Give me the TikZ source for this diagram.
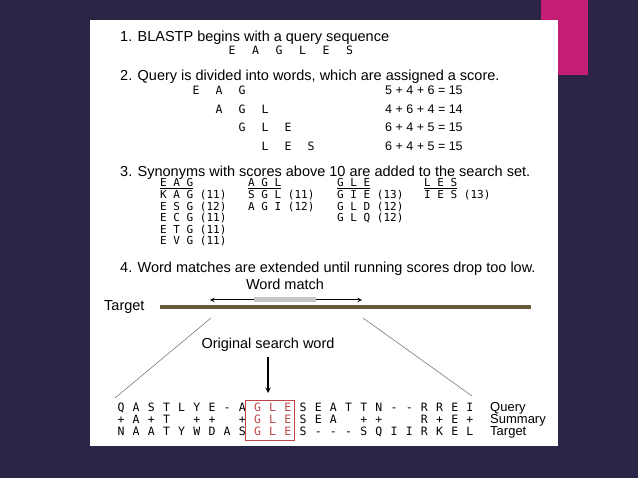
\documentclass[tikz,border=0pt]{standalone}
\usepackage{fontspec}
\setmainfont{Liberation Sans}
\newfontfamily\monof{DejaVu Sans Mono}
\begin{document}
\begin{tikzpicture}[x=1pt,y=-1pt,
  head/.style={anchor=base west,font=\fontsize{14.5}{14.5}\selectfont,inner sep=0},
  lab/.style={font=\fontsize{14.5}{14.5}\selectfont,inner sep=0},
  mono/.style={font=\monof\fontsize{11}{11}\selectfont,inner sep=0,anchor=base west},
  seq/.style={font=\monof\fontsize{11.5}{11.5}\selectfont,inner sep=0,anchor=base},
  big/.style={font=\monof\fontsize{11.5}{11.5}\selectfont,inner sep=0,anchor=base},
  score/.style={font=\fontsize{12.5}{12.5}\selectfont,inner sep=0,anchor=base west}]
\definecolor{bgp}{RGB}{44,36,68}
\definecolor{pinkc}{RGB}{196,30,118}
\definecolor{barc}{RGB}{105,90,62}
\definecolor{redb}{RGB}{190,70,70}
\useasboundingbox (0,0) rectangle (638,478);
\fill[bgp] (0,0) rectangle (638,478);
\fill[pinkc] (541,0) rectangle (588,75);
\fill[white] (90,20) rectangle (558,446);
\node[head] (h1) at (120,42) {1. BLASTP begins with a query sequence};
\foreach \c [count=\i] in {E,A,G,L,E,S} \node[big] at ({232+23.5*(\i-1)},55) {\c};
\node[head] (h2) at (120,81) {2. Query is divided into words, which are assigned a score.};
\foreach \w/\r in {{E,A,G}/0,{A,G,L}/1,{G,L,E}/2,{L,E,S}/3}
  \foreach \c [count=\i] in \w
    \node[big] at ({196+23*(\i-1)+23*\r},{95+18.5*\r}) {\c};
\foreach \s [count=\r] in {5 + 4 + 6 = 15,4 + 6 + 4 = 14,6 + 4 + 5 = 15,6 + 4 + 5 = 15}
  \node[score] at (385,{95+18.5*(\r-1)}) {\s};
\node[head] (h3) at (120,177) {3. Synonyms with scores above 10 are added to the search set.};
\node[mono] (c1) at (160,187) {\underline{E A G}};
\node[mono] (c2) at (248,187) {\underline{A G L}};
\node[mono] (c3) at (337,187) {\underline{G L E}};
\node[mono] (c4) at (424,187) {\underline{L E S}};
\foreach \t [count=\r] in {K A G (11),E S G (12),E C G (11),E T G (11),E V G (11)}
  \node[mono] at (160,{199+11.5*(\r-1)}) {\t};
\foreach \t [count=\r] in {S G L (11),A G I (12)}
  \node[mono] at (248,{199+11.5*(\r-1)}) {\t};
\foreach \t [count=\r] in {G I E (13),G L D (12),G L Q (12)}
  \node[mono] at (337,{199+11.5*(\r-1)}) {\t};
\node[mono] at (424,199) {I E S (13)};
\node[head] (h4) at (120,273) {4. Word matches are extended until running scores drop too low.};
\node[lab] (wm) at (285,284) {Word match};
\node[lab,anchor=west] (tg) at (104,307) {Target};
\coordinate (tl) at (160,307); \coordinate (tr) at (531,307);
\draw[barc,line width=4pt] (tl) -- (tr);
\coordinate (al) at (210,300); \coordinate (ar) at (362,300);
\draw[<->,>=stealth,line width=1pt] (al) -- (ar);
\draw[gray!45,line width=5pt] (254,300) -- (316,300);
\coordinate (l1) at (211,318); \coordinate (l2) at (115,398);
\coordinate (r1) at (363,318); \coordinate (r2) at (472,396);
\draw[gray!80!black,line width=0.5pt] (l1) -- (l2);
\draw[gray!80!black,line width=0.5pt] (r1) -- (r2);
\node[lab] (osw) at (268,345) {Original search word};
\coordinate (oa) at (268,393);
\draw[->,>=stealth,line width=1.4pt] (268,357) -- (oa);
\foreach \c [count=\i] in {Q,A,S,T,L,Y,E,-,A,G,L,E,S,E,A,T,T,N,-,-,R,R,E,I}
  \node[seq] at ({121+15.17*(\i-1)},412) {\ifnum\i>9 \ifnum\i<13 \color{redb}\fi\fi\c};
\foreach \c [count=\i] in {+,A,+,T,{},+,+,{},+,G,L,E,S,E,A,{},+,+,{},{},R,+,E,+}
  \node[seq] at ({121+15.17*(\i-1)},424) {\ifnum\i>9 \ifnum\i<13 \color{redb}\fi\fi\c};
\foreach \c [count=\i] in {N,A,A,T,Y,W,D,A,S,G,L,E,S,-,-,-,S,Q,I,I,R,K,E,L}
  \node[seq] at ({121+15.17*(\i-1)},436) {\ifnum\i>9 \ifnum\i<13 \color{redb}\fi\fi\c};
\draw[redb,line width=0.7pt] (245,400) rectangle (294,440);
\node[lab,anchor=base west,font=\fontsize{13}{13}\selectfont] (q) at (490,412) {Query};
\node[lab,anchor=base west,font=\fontsize{13}{13}\selectfont] (s) at (490,424) {Summary};
\node[lab,anchor=base west,font=\fontsize{13}{13}\selectfont] (t) at (490,436) {Target};
\end{tikzpicture}
\end{document}
